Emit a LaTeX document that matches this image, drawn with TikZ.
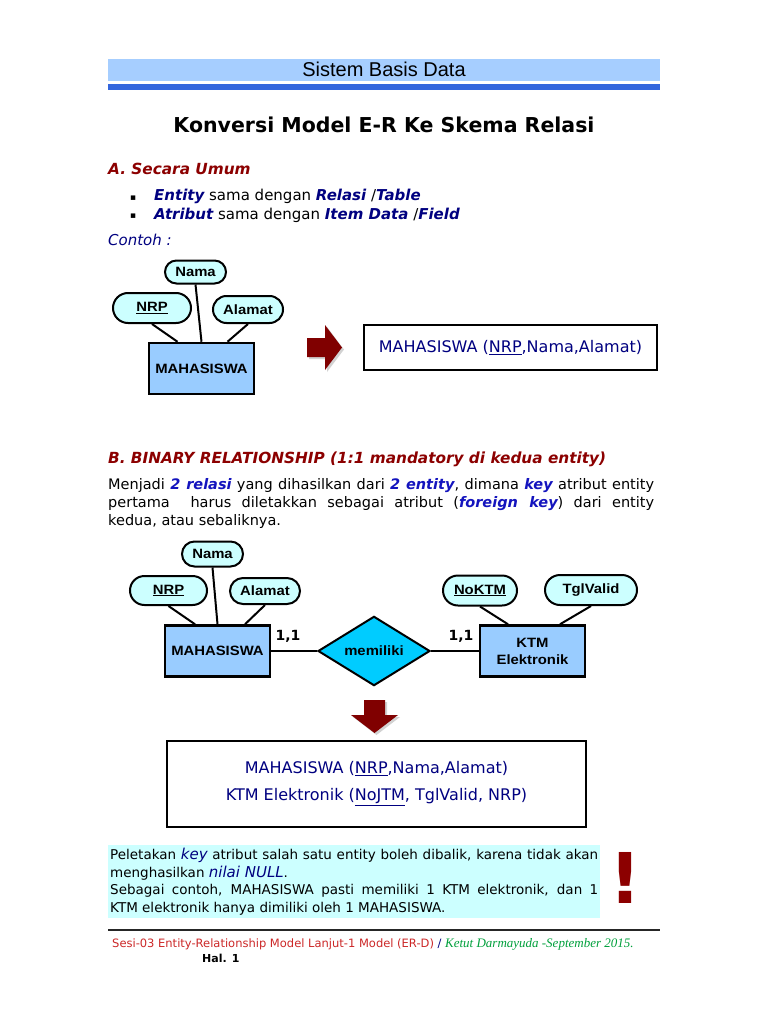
\documentclass[tikz,border=0pt]{standalone}
\usepackage{fontspec}
\setmainfont{DejaVu Sans}
\newfontfamily\arial{Liberation Sans}
\newfontfamily\erfont{Liberation Sans}[FakeStretch=1.1]
\newfontfamily\serifit{Liberation Serif}
\usetikzlibrary{shapes.geometric, shapes.misc, shadows}

\definecolor{darkred}{RGB}{140,0,0}
\definecolor{arrowred}{RGB}{128,0,0}
\definecolor{navy}{RGB}{0,0,128}
\definecolor{kwblue}{RGB}{20,20,190}
\definecolor{headfill}{RGB}{166,206,255}
\definecolor{ruleblue}{RGB}{51,102,221}
\definecolor{entfill}{RGB}{153,204,255}
\definecolor{attrfill}{RGB}{204,255,255}
\definecolor{relfill}{RGB}{0,204,255}
\definecolor{notefill}{RGB}{204,255,255}
\definecolor{footred}{RGB}{204,40,40}
\definecolor{footgreen}{RGB}{0,160,60}

\newcommand{\setfs}[2]{\fontsize{#1}{#2}\selectfont}
\newcommand{\kw}[1]{\textcolor{navy}{\bfseries\itshape #1}}
\newcommand{\kwb}[1]{\textcolor{kwblue}{\bfseries\itshape #1}}
\newcommand{\kwn}[1]{\textcolor{navy}{\itshape\setfs{15}{17.6}#1}}
\newcommand{\bulitem}{\makebox[24pt][l]{\setfs{9}{9}\raisebox{1pt}{▪}}}

\begin{document}
\begin{tikzpicture}[
    x=1pt, y=-1pt,
    font=\setfs{15}{18},
    attr/.style={rounded rectangle, draw, line width=2pt, fill=attrfill, inner sep=0pt, font=\erfont\bfseries\setfs{13.5}{14}},
    ent/.style={rectangle, draw, line width=2.5pt, fill=entfill, inner sep=0pt, minimum width=105pt, minimum height=51pt, align=center, font=\erfont\bfseries\setfs{13.5}{17}},
    rel/.style={diamond, draw, line width=2pt, fill=relfill, inner sep=0pt, minimum width=112pt, minimum height=63pt, font=\erfont\bfseries\setfs{13.5}{14}},
    link/.style={line width=2pt},
    card/.style={font=\bfseries\setfs{14}{14}},
    schema/.style={draw, line width=2.5pt, fill=white, text=navy, align=center},
    bigarrow/.style={fill=arrowred, drop shadow={shadow xshift=2pt, shadow yshift=-2pt, opacity=0.35, fill=black!50}},
    head/.style={anchor=base west, inner sep=0pt, text=darkred, font=\bfseries\itshape\setfs{15.3}{18}},
    body/.style={anchor=base west, inner sep=0pt}
]

\fill[white] (0,0) rectangle (768,1024);
\useasboundingbox (0,0) rectangle (768,1024);

% Header
\fill[headfill] (108,59) rectangle (660,81);
\fill[ruleblue] (108,84) rectangle (660,90);
\node[anchor=base, inner sep=0pt, font=\arial\setfs{20}{20}] (hdr) at (384,77) {Sistem Basis Data};
\node[anchor=base, inner sep=0pt, font=\bfseries\setfs{20.5}{24}] (title) at (384,133) {Konversi Model E-R Ke Skema Relasi};

% A. Secara Umum
\node[head] (secA) at (108,175) {A. Secara Umum};
\node[body] (itemA) at (130,201) {\bulitem\kw{Entity} sama dengan \kw{Relasi} /\kw{Table}};
\node[body] (itemB) at (130,219) {\bulitem\kw{Atribut} sama dengan \kw{Item Data} /\kw{Field}};
\node[body, text=navy, font=\itshape\setfs{15}{18}] (contoh) at (108,245) {Contoh :};

% Diagram 1
\node[attr, minimum width=61pt, minimum height=23pt] (nama1) at (195.5,272) {Nama};
\node[attr, minimum width=78pt, minimum height=30pt] (nrp1) at (152,308) {\underline{NRP}};
\node[attr, minimum width=70pt, minimum height=27pt] (alamat1) at (248,309.5) {Alamat};
\node[ent] (mhs1) at (201.5,368.5) {MAHASISWA};
\draw[link] (nrp1.south) -- ([xshift=-24pt]mhs1.north);
\draw[link] (nama1.south) -- (mhs1.north);
\draw[link] (alamat1.south) -- ([xshift=26pt]mhs1.north);

\fill[bigarrow] (307,338) -- (325,338) -- (325,325) -- (342,347.5) -- (325,370) -- (325,357) -- (307,357) -- cycle;
\node[schema, minimum width=293pt, minimum height=45pt, font=\setfs{16}{20}] (rel1) at (510.5,347.5) {MAHASISWA (\underline{NRP},Nama,Alamat)};

% B. Binary relationship
\node[head] (secB) at (108,463) {B. BINARY RELATIONSHIP (1:1 mandatory di kedua entity)};
\node[anchor=north west, inner sep=0pt, text width=546pt, align=justify, font=\setfs{14.5}{18.3}] (parB) at (108,478)
    {Menjadi \kwb{2 relasi} yang dihasilkan dari \kwb{2 entity}, dimana \kwb{key} atribut entity\linebreak
     pertama\ \ harus diletakkan sebagai atribut (\kwb{foreign key}) dari entity\linebreak
     kedua, atau sebaliknya.};

% Diagram 2
\node[attr, minimum width=61pt, minimum height=25pt] (nama2) at (212.5,554) {Nama};
\node[attr, minimum width=77pt, minimum height=29pt] (nrp2) at (168.5,590.5) {\underline{NRP}};
\node[attr, minimum width=70pt, minimum height=26pt] (alamat2) at (265,591) {Alamat};
\node[ent] (mhs2) at (217.5,651) {MAHASISWA};
\node[rel, minimum height=66pt] (memiliki) at (374,651) {memiliki};
\node[ent] (ktm) at (532.5,651) {KTM\\Elektronik};
\node[attr, minimum width=74pt, minimum height=30pt] (noktm) at (480,590.5) {\underline{NoKTM}};
\node[attr, minimum width=92pt, minimum height=30pt] (tglvalid) at (591,590) {TglValid};

\draw[link] (nrp2.south) -- ([xshift=-22.5pt]mhs2.north);
\draw[link] (nama2.south) -- (mhs2.north);
\draw[link] (alamat2.south) -- ([xshift=27.5pt]mhs2.north);
\draw[link] (noktm.south) -- ([xshift=-24.5pt]ktm.north);
\draw[link] (tglvalid.south) -- ([xshift=27.5pt]ktm.north);
\draw[link] (mhs2) -- (memiliki);
\draw[link] (memiliki) -- (ktm);
\node[card] (card1) at (288,636) {1,1};
\node[card] (card2) at (461,636) {1,1};

\fill[bigarrow] (364,700) -- (385,700) -- (385,715) -- (398,715) -- (374.5,733) -- (351,715) -- (364,715) -- cycle;
\node[schema, minimum width=419pt, minimum height=86pt, font=\setfs{16}{27}] (rel2) at (376.5,784)
    {MAHASISWA (\underline{NRP},Nama,Alamat)\\KTM Elektronik (\underline{NoJTM}, TglValid, NRP)};

% Note
\node[anchor=north west, fill=notefill, inner xsep=2pt, inner ysep=3pt, text width=488pt, align=justify, font=\setfs{13.5}{17.6}] (note) at (108,845)
    {Peletakan \kwn{key} atribut salah satu entity boleh dibalik, karena tidak akan\linebreak
     menghasilkan \kwn{nilai NULL}.\\
     Sebagai contoh, MAHASISWA pasti memiliki 1 KTM elektronik, dan 1\linebreak
     KTM elektronik hanya dimiliki oleh 1 MAHASISWA.};
\node[anchor=base, inner sep=0pt, text=darkred, font=\bfseries\setfs{70}{70}] (bang) at (625.5,903) {!};

% Footer
\draw[line width=2pt, black!85] (108,930) -- (660,930);
\node[body, font=\setfs{11.5}{14}] (foot) at (112,947)
    {\textcolor{footred}{Sesi-03 Entity-Relationship Model Lanjut-1 Model (ER-D)} \textcolor{navy}{/} \textcolor{footgreen}{\serifit\itshape\setfs{13}{14}Ketut Darmayuda -September 2015.}};
\node[body, font=\bfseries\setfs{11}{14}] (hal) at (202,962) {Hal. 1};

\end{tikzpicture}
\end{document}
